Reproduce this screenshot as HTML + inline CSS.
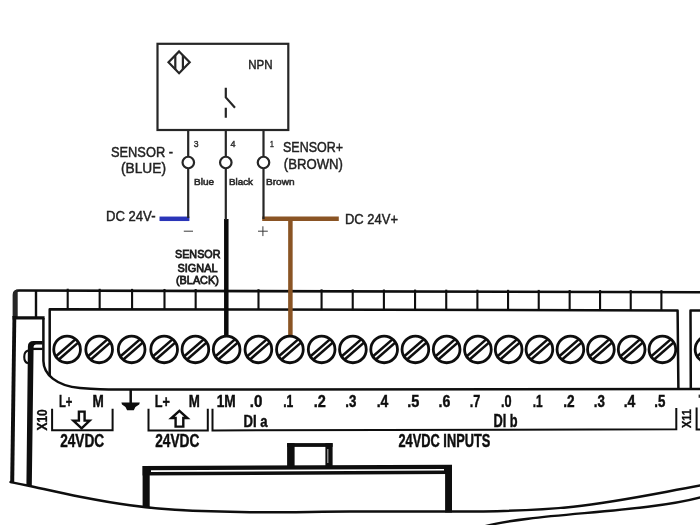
<!DOCTYPE html>
<html><head><meta charset="utf-8"><title>NPN sensor wiring</title>
<style>html,body{margin:0;padding:0;background:#fff;}body{width:700px;height:525px;overflow:hidden;}svg{display:block;will-change:transform;filter:blur(0.4px);}text{font-family:"Liberation Sans",sans-serif;}</style>
</head><body>
<svg width="700" height="525" viewBox="0 0 700 525">
<defs>
<g id="screw"><circle r="13.35" fill="#fff" stroke="#0e0e0e" stroke-width="2.8"/><g transform="rotate(-41)" stroke="#0e0e0e" stroke-width="2.6"><line x1="-13.2" x2="13.2" y1="-2.15" y2="-2.15"/><line x1="-13.2" x2="13.2" y1="2.15" y2="2.15"/></g></g>
</defs>
<rect width="700" height="525" fill="#fff"/>
<g fill="none" stroke="#0e0e0e" stroke-linecap="butt" stroke-linejoin="round">
<path d="M14.2,318 L14.2,295 Q14.2,290.5 19,290.5 L700,292.2" stroke-width="2.6"/>
<path d="M12.7,317 L12.7,294 Q12.9,290 17.7,289.8 L17.7,317 Z" fill="#262626" stroke="none"/>
<path d="M12.5,316 L16.3,316 L14.2,483 L10.2,482.2 Z" fill="#0e0e0e" stroke="none"/>
<path d="M36,290.6 L36,318" stroke-width="2.4"/>
<path d="M12.6,317.9 L44.6,317.9" stroke-width="3.1"/>
<path d="M43.4,317.9 L43.4,361 C43.6,374 56,386 80,387.9 C95,388.9 105,389.4 116,389.5 L700,389.1" stroke-width="2.5"/>
<path d="M49.7,376 L49.7,309.2 L677.6,310.4 L678.4,389.4" stroke-width="2.5"/>
<path d="M700,310.5 L690.5,310.5 L690.8,389.4" stroke-width="2.5"/>
<path d="M67.70,288.72 L67.70,309.63" stroke-width="2.1"/>
<path d="M99.66,288.80 L99.66,309.69" stroke-width="2.1"/>
<path d="M132.08,288.88 L132.08,309.76" stroke-width="2.1"/>
<path d="M164.49,288.96 L164.49,309.82" stroke-width="2.1"/>
<path d="M195.66,289.04 L195.66,309.88" stroke-width="2.1"/>
<path d="M226.82,289.12 L226.82,309.94" stroke-width="2.1"/>
<path d="M258.49,289.20 L258.49,310.00" stroke-width="2.1"/>
<path d="M289.90,289.28 L289.90,310.06" stroke-width="2.1"/>
<path d="M321.57,289.35 L321.57,310.12" stroke-width="2.1"/>
<path d="M352.73,289.43 L352.73,310.18" stroke-width="2.1"/>
<path d="M383.90,289.51 L383.90,310.24" stroke-width="2.1"/>
<path d="M415.06,289.59 L415.06,310.30" stroke-width="2.1"/>
<path d="M446.23,289.67 L446.23,310.36" stroke-width="2.1"/>
<path d="M477.40,289.74 L477.40,310.42" stroke-width="2.1"/>
<path d="M508.06,289.82 L508.06,310.48" stroke-width="2.1"/>
<path d="M538.73,289.90 L538.73,310.53" stroke-width="2.1"/>
<path d="M569.65,289.98 L569.65,310.59" stroke-width="2.1"/>
<path d="M600.07,290.05 L600.07,310.65" stroke-width="2.1"/>
<path d="M630.73,290.13 L630.73,310.71" stroke-width="2.1"/>
<path d="M661.40,290.21 L661.40,310.77" stroke-width="2.1"/>
</g>
<g fill="none" stroke="#0e0e0e">
<path d="M28,350.6 C23,352 23,362 28,363.2" stroke-width="2.1"/>
<path d="M26.4,485.6 L27.9,346.5 Q27.9,341 33.5,341 L42.6,341 L42.6,344.4 L36.3,344.4 Q33.6,344.4 33.6,347 L31.8,486.8 Z" fill="#0e0e0e" stroke="none"/>
<path d="M33,348.9 L42.6,348.9" stroke-width="2.3"/>
</g>
<g fill="none" stroke="#0e0e0e" stroke-linecap="round" stroke-linejoin="round">
<path d="M10.60,482.10 C13.60,482.70 17.03,483.27 28.60,485.70 C40.17,488.13 63.10,493.43 80.00,496.70 C96.90,499.97 114.17,503.12 130.00,505.30 C145.83,507.48 155.00,508.65 175.00,509.80 C195.00,510.95 220.83,511.90 250.00,512.20 C279.17,512.50 317.00,511.70 350.00,511.60 C383.00,511.50 431.67,511.60 448.00,511.60 C576.6,512 608.3,502.2 702,485.2" stroke-width="2.5"/>
<path d="M484,526.5 C532.9,512.9 643.7,513.1 702,497" stroke-width="2.4"/>
</g>
<g fill="#0e0e0e" stroke="none">
<polygon points="142.6,465.9 452,464.7 452,474 142.6,475.5"/>
<rect x="142.6" y="466" width="7.1" height="42"/>
<rect x="445.1" y="465" width="6.9" height="47.5"/>
<polygon points="151,470.2 444,469.1 444,470.6 151,471.9" fill="#fff"/>
<rect x="287.1" y="443.1" width="45.5" height="3.8"/>
<rect x="287.1" y="443.1" width="7.5" height="24"/>
<rect x="325.4" y="443.1" width="7.2" height="24"/>
<rect x="327.4" y="449" width="0.9" height="14" fill="#ddd"/>
</g>
<g fill="none" stroke-linecap="butt">
<path d="M226.3,219 L226.3,335" stroke="#0a0a0a" stroke-width="4.5"/>
<path d="M262.2,218.8 L338.8,218.8" stroke="#8a5424" stroke-width="4.6"/>
<path d="M290.4,218.8 L290.4,335.5" stroke="#8a5424" stroke-width="4.5"/>
<path d="M159.5,218.8 L189.4,218.8" stroke="#2a35b8" stroke-width="4.5"/>
</g>
<use href="#screw" x="67.10" y="349.40"/>
<use href="#screw" x="99.15" y="349.40"/>
<use href="#screw" x="131.65" y="349.40"/>
<use href="#screw" x="164.15" y="349.40"/>
<use href="#screw" x="195.40" y="349.40"/>
<use href="#screw" x="226.65" y="349.40"/>
<use href="#screw" x="258.40" y="349.40"/>
<use href="#screw" x="289.90" y="349.40"/>
<use href="#screw" x="321.65" y="349.40"/>
<use href="#screw" x="352.90" y="349.40"/>
<use href="#screw" x="384.15" y="349.40"/>
<use href="#screw" x="415.40" y="349.40"/>
<use href="#screw" x="446.65" y="349.40"/>
<use href="#screw" x="477.90" y="349.40"/>
<use href="#screw" x="508.65" y="349.40"/>
<use href="#screw" x="539.40" y="349.40"/>
<use href="#screw" x="570.40" y="349.40"/>
<use href="#screw" x="600.90" y="349.40"/>
<use href="#screw" x="631.65" y="349.40"/>
<use href="#screw" x="662.40" y="349.40"/>
<use href="#screw" x="708.50" y="349.40"/>
<g fill="none" stroke="#262626" stroke-width="2.2">
<rect x="157.5" y="43.8" width="130.8" height="86.2"/>
<path d="M179.1,51.4 L189.7,62.3 L179.1,73.2 L168.5,62.3 Z"/>
<path d="M175.3,55 L175.3,69.6 M182.9,55 L182.9,69.6"/>
<path d="M225.8,87.8 L225.8,97.4 L235,107.8 M225.8,107.8 L225.8,117.8"/>
<path d="M188.2,130 L188.2,218 M225.8,130 L225.8,220 M263.5,130 L263.5,219"/>
<circle cx="188.3" cy="162.5" r="5.75" fill="#fff"/>
<circle cx="225.8" cy="162.5" r="5.75" fill="#fff"/>
<circle cx="263.5" cy="162.5" r="5.75" fill="#fff"/>
</g>
<text x="248.20" y="68.70" font-size="12.80" font-weight="normal" fill="#222" textLength="24.30" lengthAdjust="spacingAndGlyphs" stroke="#222" stroke-width="0.45">NPN</text>
<text x="111.00" y="156.50" font-size="14.60" font-weight="normal" fill="#222" textLength="62.00" lengthAdjust="spacingAndGlyphs" stroke="#222" stroke-width="0.45">SENSOR -</text>
<text x="121.00" y="173.00" font-size="14.60" font-weight="normal" fill="#222" textLength="45.00" lengthAdjust="spacingAndGlyphs" stroke="#222" stroke-width="0.45">(BLUE)</text>
<text x="283.00" y="152.00" font-size="14.60" font-weight="normal" fill="#222" textLength="60.00" lengthAdjust="spacingAndGlyphs" stroke="#222" stroke-width="0.45">SENSOR+</text>
<text x="283.80" y="168.60" font-size="14.60" font-weight="normal" fill="#222" textLength="59.20" lengthAdjust="spacingAndGlyphs" stroke="#222" stroke-width="0.45">(BROWN)</text>
<text x="106.00" y="220.50" font-size="14.60" font-weight="normal" fill="#222" textLength="49.50" lengthAdjust="spacingAndGlyphs" stroke="#222" stroke-width="0.45">DC 24V-</text>
<text x="345.00" y="223.70" font-size="14.60" font-weight="normal" fill="#222" textLength="53.00" lengthAdjust="spacingAndGlyphs" stroke="#222" stroke-width="0.45">DC 24V+</text>
<text x="193.80" y="146.80" font-size="9.00" font-weight="normal" fill="#333" textLength="4.80" lengthAdjust="spacingAndGlyphs" stroke="#333" stroke-width="0.45">3</text>
<text x="230.50" y="146.80" font-size="9.00" font-weight="normal" fill="#333" textLength="5.00" lengthAdjust="spacingAndGlyphs" stroke="#333" stroke-width="0.45">4</text>
<text x="270.00" y="146.60" font-size="9.00" font-weight="normal" fill="#333" textLength="3.80" lengthAdjust="spacingAndGlyphs" stroke="#333" stroke-width="0.45">1</text>
<text x="194.00" y="185.30" font-size="9.50" font-weight="normal" fill="#2a2a2a" textLength="20.00" lengthAdjust="spacingAndGlyphs" stroke="#2a2a2a" stroke-width="0.55">Blue</text>
<text x="229.00" y="185.30" font-size="9.50" font-weight="normal" fill="#2a2a2a" textLength="24.00" lengthAdjust="spacingAndGlyphs" stroke="#2a2a2a" stroke-width="0.55">Black</text>
<text x="266.00" y="185.30" font-size="9.50" font-weight="normal" fill="#2a2a2a" textLength="28.50" lengthAdjust="spacingAndGlyphs" stroke="#2a2a2a" stroke-width="0.55">Brown</text>
<path d="M183.8,231.2 L193,231.2 M258,231.2 L267.8,231.2 M262.9,226.3 L262.9,236.1" stroke="#3a3a3a" stroke-width="1" fill="none"/>
<text x="175.00" y="257.70" font-size="11.60" font-weight="normal" fill="#1c1c1c" textLength="45.50" lengthAdjust="spacingAndGlyphs" stroke="#1c1c1c" stroke-width="0.80">SENSOR</text>
<text x="177.50" y="271.70" font-size="11.60" font-weight="normal" fill="#1c1c1c" textLength="40.00" lengthAdjust="spacingAndGlyphs" stroke="#1c1c1c" stroke-width="0.80">SIGNAL</text>
<text x="176.00" y="284.40" font-size="11.60" font-weight="normal" fill="#1c1c1c" textLength="42.80" lengthAdjust="spacingAndGlyphs" stroke="#1c1c1c" stroke-width="0.80">(BLACK)</text>
<text x="59.00" y="407.40" font-size="17.30" font-weight="bold" fill="#0e0e0e" textLength="13.40" lengthAdjust="spacingAndGlyphs" stroke="#0e0e0e" stroke-width="0.45">L+</text>
<text x="92.60" y="407.30" font-size="17.30" font-weight="bold" fill="#0e0e0e" textLength="11.30" lengthAdjust="spacingAndGlyphs" stroke="#0e0e0e" stroke-width="0.45">M</text>
<text x="154.70" y="407.30" font-size="17.30" font-weight="bold" fill="#0e0e0e" textLength="15.10" lengthAdjust="spacingAndGlyphs" stroke="#0e0e0e" stroke-width="0.45">L+</text>
<text x="188.70" y="407.30" font-size="17.30" font-weight="bold" fill="#0e0e0e" textLength="11.10" lengthAdjust="spacingAndGlyphs" stroke="#0e0e0e" stroke-width="0.45">M</text>
<text x="216.70" y="407.30" font-size="17.30" font-weight="bold" fill="#0e0e0e" textLength="19.10" lengthAdjust="spacingAndGlyphs" stroke="#0e0e0e" stroke-width="0.45">1M</text>
<text x="249.70" y="407.30" font-size="17.30" font-weight="bold" fill="#0e0e0e" textLength="12.60" lengthAdjust="spacingAndGlyphs" stroke="#0e0e0e" stroke-width="0.45">.0</text>
<text x="283.20" y="407.30" font-size="17.30" font-weight="bold" fill="#0e0e0e" textLength="10.10" lengthAdjust="spacingAndGlyphs" stroke="#0e0e0e" stroke-width="0.45">.1</text>
<text x="313.70" y="407.30" font-size="17.30" font-weight="bold" fill="#0e0e0e" textLength="12.10" lengthAdjust="spacingAndGlyphs" stroke="#0e0e0e" stroke-width="0.45">.2</text>
<text x="345.20" y="407.30" font-size="17.30" font-weight="bold" fill="#0e0e0e" textLength="11.10" lengthAdjust="spacingAndGlyphs" stroke="#0e0e0e" stroke-width="0.45">.3</text>
<text x="376.70" y="407.30" font-size="17.30" font-weight="bold" fill="#0e0e0e" textLength="11.60" lengthAdjust="spacingAndGlyphs" stroke="#0e0e0e" stroke-width="0.45">.4</text>
<text x="407.20" y="407.30" font-size="17.30" font-weight="bold" fill="#0e0e0e" textLength="12.10" lengthAdjust="spacingAndGlyphs" stroke="#0e0e0e" stroke-width="0.45">.5</text>
<text x="438.50" y="407.30" font-size="17.30" font-weight="bold" fill="#0e0e0e" textLength="11.80" lengthAdjust="spacingAndGlyphs" stroke="#0e0e0e" stroke-width="0.45">.6</text>
<text x="469.70" y="407.30" font-size="17.30" font-weight="bold" fill="#0e0e0e" textLength="10.60" lengthAdjust="spacingAndGlyphs" stroke="#0e0e0e" stroke-width="0.45">.7</text>
<text x="500.90" y="407.30" font-size="17.30" font-weight="bold" fill="#0e0e0e" textLength="10.60" lengthAdjust="spacingAndGlyphs" stroke="#0e0e0e" stroke-width="0.45">.0</text>
<text x="532.70" y="407.30" font-size="17.30" font-weight="bold" fill="#0e0e0e" textLength="9.90" lengthAdjust="spacingAndGlyphs" stroke="#0e0e0e" stroke-width="0.45">.1</text>
<text x="563.20" y="407.30" font-size="17.30" font-weight="bold" fill="#0e0e0e" textLength="11.40" lengthAdjust="spacingAndGlyphs" stroke="#0e0e0e" stroke-width="0.45">.2</text>
<text x="593.70" y="407.30" font-size="17.30" font-weight="bold" fill="#0e0e0e" textLength="11.10" lengthAdjust="spacingAndGlyphs" stroke="#0e0e0e" stroke-width="0.45">.3</text>
<text x="623.70" y="407.30" font-size="17.30" font-weight="bold" fill="#0e0e0e" textLength="11.60" lengthAdjust="spacingAndGlyphs" stroke="#0e0e0e" stroke-width="0.45">.4</text>
<text x="654.20" y="407.30" font-size="17.30" font-weight="bold" fill="#0e0e0e" textLength="11.10" lengthAdjust="spacingAndGlyphs" stroke="#0e0e0e" stroke-width="0.45">.5</text>
<text x="60.20" y="447.40" font-size="18.40" font-weight="bold" fill="#0e0e0e" textLength="44.00" lengthAdjust="spacingAndGlyphs" stroke="#0e0e0e" stroke-width="0.45">24VDC</text>
<text x="155.20" y="447.30" font-size="18.40" font-weight="bold" fill="#0e0e0e" textLength="44.10" lengthAdjust="spacingAndGlyphs" stroke="#0e0e0e" stroke-width="0.45">24VDC</text>
<text x="243.40" y="427.00" font-size="17.40" font-weight="bold" fill="#0e0e0e" textLength="24.10" lengthAdjust="spacingAndGlyphs" stroke="#0e0e0e" stroke-width="0.45">DI a</text>
<text x="493.50" y="427.20" font-size="17.60" font-weight="bold" fill="#0e0e0e" textLength="24.10" lengthAdjust="spacingAndGlyphs" stroke="#0e0e0e" stroke-width="0.45">DI b</text>
<text x="398.50" y="446.50" font-size="18.00" font-weight="bold" fill="#0e0e0e" textLength="91.80" lengthAdjust="spacingAndGlyphs" stroke="#0e0e0e" stroke-width="0.45">24VDC INPUTS</text>
<text transform="translate(47,430.6) rotate(-90)" font-size="13.8" font-weight="bold" fill="#0e0e0e" stroke="#0e0e0e" stroke-width="0.3" textLength="21.4" lengthAdjust="spacingAndGlyphs">X10</text>
<text transform="translate(690.5,428) rotate(-90)" font-size="12.8" font-weight="bold" fill="#0e0e0e" stroke="#0e0e0e" stroke-width="0.3" textLength="18.8" lengthAdjust="spacingAndGlyphs">X11</text>
<g fill="none" stroke="#0e0e0e" stroke-width="2">
<path d="M52.1,408.7 L52.1,430.3 L112.6,430.3 L112.6,408.7"/>
<path d="M148.5,408.7 L148.5,430.4 L207.8,430.4 L207.8,408.7"/>
<path d="M212.5,408.7 L212.5,430.4 L676.3,429.2 L676.3,408"/>
<path d="M696.6,407.5 L696.6,429.6 L700,429.6"/>
<path d="M78.9,411.6 L84.6,411.6 L84.6,420.6 L89.6,420.6 L81.6,428.3 L73.4,420.6 L78.9,420.6 Z" stroke-width="2.4"/>
<path d="M175.6,426.6 L183.3,426.6 L183.3,418 L187.4,418 L179.4,410.8 L171.4,418 L175.6,418 Z" stroke-width="2.4"/>
<path d="M130.7,389.5 L130.7,403.5" stroke-width="2.5"/>
</g>
<path d="M121.4,402.6 L139.8,402.6 L139.2,404.4 L135.4,407 L133.8,410.2 L127.1,410.2 L125.5,407 L122,404.4 Z" fill="#0e0e0e"/>
<rect x="698.6" y="394.6" width="1.4" height="3.2" fill="#333"/>
</svg>
</body></html>
